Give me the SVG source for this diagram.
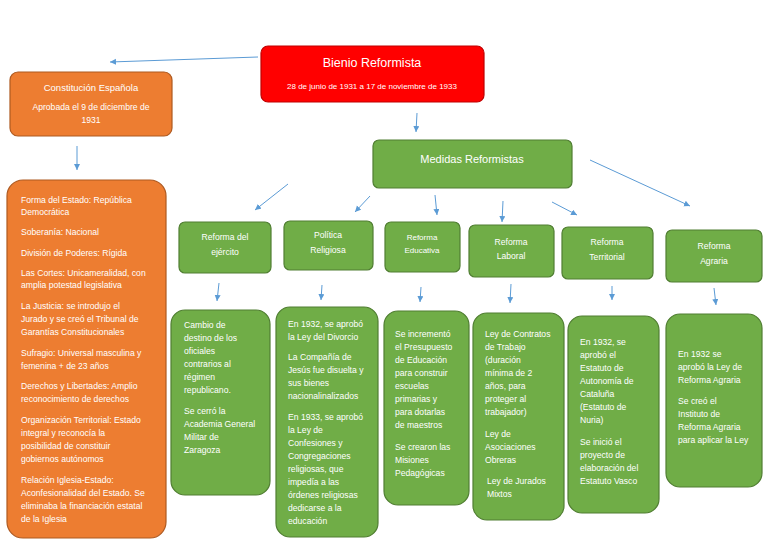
<svg xmlns="http://www.w3.org/2000/svg" width="768" height="543" viewBox="0 0 768 543">
<style>
.o{fill:#ED7D31;stroke:#AE5A21;stroke-width:1.2}
.g{fill:#70AD47;stroke:#507E32;stroke-width:1.2}
.r{fill:#FF0000;stroke:#C00000;stroke-width:1.2}
text{font-family:"Liberation Sans",Arial,sans-serif;fill:#fff;font-size:8.6px}
.c{text-anchor:middle}
.a{stroke:#5B9BD5;stroke-width:1;fill:none;marker-end:url(#m)}
</style>
<defs><marker id="m" markerWidth="8" markerHeight="8" refX="6" refY="3" orient="auto" markerUnits="userSpaceOnUse"><path d="M0,0L6,3L0,6z" fill="#5B9BD5"/></marker></defs>
<rect width="768" height="543" fill="#fff"/>
<g id="connectors">
<line class="a" x1="258" y1="57" x2="110" y2="62"/>
<line class="a" x1="77" y1="146" x2="77" y2="170"/>
<line class="a" x1="417" y1="113" x2="416" y2="132"/>
<line class="a" x1="288" y1="184" x2="255" y2="210"/>
<line class="a" x1="370" y1="196" x2="355" y2="212"/>
<line class="a" x1="435" y1="195" x2="437" y2="215"/>
<line class="a" x1="503" y1="201" x2="502" y2="222"/>
<line class="a" x1="552" y1="202" x2="577" y2="215"/>
<line class="a" x1="590" y1="160" x2="690" y2="206"/>
<line class="a" x1="219" y1="283" x2="217" y2="301"/>
<line class="a" x1="322" y1="285" x2="321" y2="300"/>
<line class="a" x1="421" y1="287" x2="420" y2="302"/>
<line class="a" x1="511" y1="284" x2="510" y2="303"/>
<line class="a" x1="612" y1="286" x2="612" y2="300"/>
<line class="a" x1="714" y1="288" x2="716" y2="305"/>
</g>
<g id="bienio"><rect class="r" x="261" y="46" width="223" height="56" rx="7"/>
<text class="c" x="372" y="67" style="font-size:12.5px">Bienio Reformista</text>
<text class="c" x="372" y="89" style="font-size:8px">28 de junio de 1931 a 17 de noviembre de 1933</text></g>
<g id="constitucion"><rect class="o" x="10" y="72" width="162" height="64" rx="8"/>
<text class="c" x="91" y="91" style="font-size:9.5px">Constitución Española</text>
<text class="c" x="91" y="110">Aprobada el 9 de diciembre de</text>
<text class="c" x="91" y="123">1931</text></g>
<g id="constdetalle"><rect class="o" x="7" y="180" width="159" height="358" rx="16"/>
<text x="21" y="203">Forma del Estado: República</text><text x="21" y="215">Democrática</text>
<text x="21" y="235">Soberanía: Nacional</text>
<text x="21" y="256">División de Poderes: Rígida</text>
<text x="21" y="276">Las Cortes: Unicameralidad, con</text><text x="21" y="288">amplia potestad legislativa</text>
<text x="21" y="309">La Justicia: se introdujo el</text><text x="21" y="322">Jurado y se creó el Tribunal de</text><text x="21" y="335">Garantías Constitucionales</text>
<text x="21" y="356">Sufragio: Universal masculina y</text><text x="21" y="369">femenina + de 23 años</text>
<text x="21" y="389">Derechos y Libertades: Amplio</text><text x="21" y="402">reconocimiento de derechos</text>
<text x="21" y="423">Organización Territorial: Estado</text><text x="21" y="436">integral y reconocía la</text><text x="21" y="449">posibilidad de constituir</text><text x="21" y="462">gobiernos autónomos</text>
<text x="21" y="483">Relación Iglesia-Estado:</text><text x="21" y="496">Aconfesionalidad del Estado. Se</text><text x="21" y="509">eliminaba la financiación estatal</text><text x="21" y="522">de la Iglesia</text></g>
<g id="medidas"><rect class="g" x="373" y="140" width="199" height="48" rx="6"/>
<text class="c" x="472" y="163" style="font-size:11px">Medidas Reformistas</text></g>
<g id="ejercito"><rect class="g" x="179" y="222" width="92" height="51" rx="6"/>
<text class="c" x="225" y="240">Reforma del</text><text class="c" x="225" y="255">ejército</text></g>
<g id="religiosa"><rect class="g" x="284" y="221" width="89" height="49" rx="6"/>
<text class="c" x="328" y="238">Política</text><text class="c" x="328" y="253">Religiosa</text></g>
<g id="educativa"><rect class="g" x="385" y="222" width="75" height="50" rx="6"/>
<text class="c" x="422" y="240" style="font-size:8px">Reforma</text><text class="c" x="422" y="253" style="font-size:8px">Educativa</text></g>
<g id="laboral"><rect class="g" x="469" y="225" width="85" height="52" rx="6"/>
<text class="c" x="511" y="245">Reforma</text><text class="c" x="511" y="259">Laboral</text></g>
<g id="territorial"><rect class="g" x="562" y="227" width="91" height="52" rx="6"/>
<text class="c" x="607" y="245">Reforma</text><text class="c" x="607" y="260">Territorial</text></g>
<g id="agraria"><rect class="g" x="666" y="230" width="96" height="52" rx="6"/>
<text class="c" x="714" y="249">Reforma</text><text class="c" x="714" y="264">Agraria</text></g>
<g id="b1"><rect class="g" x="171" y="310" width="99" height="185" rx="14"/>
<text x="184" y="328">Cambio de</text><text x="184" y="341">destino de los</text><text x="184" y="354">oficiales</text><text x="184" y="367">contrarios al</text><text x="184" y="380">régimen</text><text x="184" y="393">republicano.</text>
<text x="184" y="414">Se cerró la</text><text x="184" y="427">Academia General</text><text x="184" y="440">Militar de</text><text x="184" y="453">Zaragoza</text></g>
<g id="b2"><rect class="g" x="276" y="307" width="102" height="230" rx="14"/>
<text x="288" y="327">En 1932, se aprobó</text><text x="288" y="340">la Ley del Divorcio</text>
<text x="288" y="360">La Compañía de</text><text x="288" y="373">Jesús fue disuelta y</text><text x="288" y="386">sus bienes</text><text x="288" y="399">nacionalinalizados</text>
<text x="288" y="420">En 1933, se aprobó</text><text x="288" y="433">la Ley de</text><text x="288" y="446">Confesiones y</text><text x="288" y="459">Congregaciones</text><text x="288" y="472">religiosas, que</text><text x="288" y="485">impedía a las</text><text x="288" y="498">órdenes religiosas</text><text x="288" y="511">dedicarse a la</text><text x="288" y="524">educación</text></g>
<g id="b3"><rect class="g" x="384" y="311" width="85" height="194" rx="14"/>
<text x="395" y="337">Se incrementó</text><text x="395" y="350">el Presupuesto</text><text x="395" y="363">de Educación</text><text x="395" y="376">para construir</text><text x="395" y="389">escuelas</text><text x="395" y="402">primarias y</text><text x="395" y="415">para dotarlas</text><text x="395" y="428">de maestros</text>
<text x="395" y="450">Se crearon las</text><text x="395" y="463">Misiones</text><text x="395" y="476">Pedagógicas</text></g>
<g id="b4"><rect class="g" x="473" y="313" width="91" height="207" rx="14"/>
<text x="485" y="337">Ley de Contratos</text><text x="485" y="350">de Trabajo</text><text x="485" y="363">(duración</text><text x="485" y="376">mínima de 2</text><text x="485" y="389">años, para</text><text x="485" y="402">proteger al</text><text x="485" y="415">trabajador)</text>
<text x="485" y="437">Ley de</text><text x="485" y="450">Asociaciones</text><text x="485" y="463">Obreras</text>
<text x="487" y="484">Ley de Jurados</text><text x="487" y="497">Mixtos</text></g>
<g id="b5"><rect class="g" x="568" y="316" width="91" height="197" rx="14"/>
<text x="580" y="345">En 1932, se</text><text x="580" y="358">aprobó el</text><text x="580" y="371">Estatuto de</text><text x="580" y="384">Autonomía de</text><text x="580" y="397">Cataluña</text><text x="580" y="410">(Estatuto de</text><text x="580" y="423">Nuria)</text>
<text x="580" y="445">Se inició el</text><text x="580" y="458">proyecto de</text><text x="580" y="471">elaboración del</text><text x="580" y="484">Estatuto Vasco</text></g>
<g id="b6"><rect class="g" x="666" y="314" width="96" height="173" rx="14"/>
<text x="678" y="357">En 1932 se</text><text x="678" y="370">aprobó la Ley de</text><text x="678" y="383">Reforma Agraria</text>
<text x="678" y="404">Se creó el</text><text x="678" y="417">Instituto de</text><text x="678" y="430">Reforma Agraria</text><text x="678" y="443">para aplicar la Ley</text></g>
</svg>
